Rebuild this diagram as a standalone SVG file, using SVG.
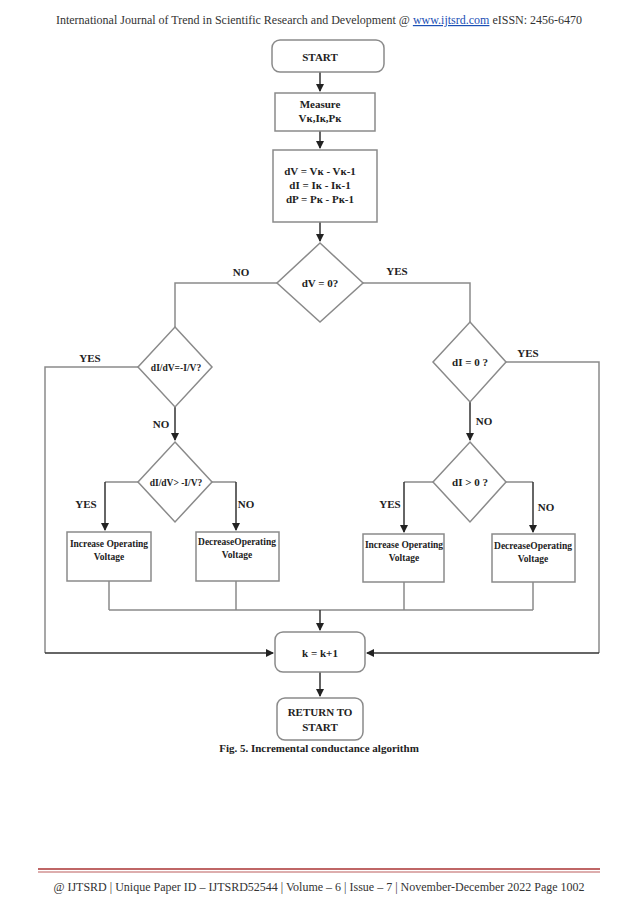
<svg xmlns="http://www.w3.org/2000/svg" width="638" height="903" viewBox="0 0 638 903">
<style>
.s{fill:#fff;stroke:#8a8a8a;stroke-width:1.5}
.c{fill:none;stroke:#8a8a8a;stroke-width:1.5}
.a{fill:none;stroke:#333;stroke-width:1.5;marker-end:url(#ar)}
text{font-family:"Liberation Serif",serif;font-weight:bold;font-size:11px;fill:#222;text-anchor:middle}
.sm{font-size:9.5px}
.h{font-weight:normal;font-size:12px;fill:#333}
</style>
<defs><marker id="ar" markerWidth="8" markerHeight="8" refX="7" refY="4" orient="auto" markerUnits="userSpaceOnUse"><path d="M0,0L8,4L0,8z" fill="#222"/></marker></defs>
<rect width="638" height="903" fill="#fff"/>
<text class="h" x="319" y="24">International Journal of Trend in Scientific Research and Development @ <tspan fill="#1a4fb5" text-decoration="underline">www.ijtsrd.com</tspan> eISSN: 2456-6470</text>
<g id="connectors">
<path class="a" d="M320,72V91"/>
<path class="a" d="M320,131V148"/>
<path class="a" d="M320,222V241"/>
<path class="c" d="M277,283H175V327"/>
<path class="c" d="M363,283H470V322"/>
<path class="a" d="M175,407V440"/>
<path class="a" d="M470,402V440"/>
<path class="c" d="M138,367H45V653"/><path class="a" d="M45,653H273"/>
<path class="c" d="M506,362H599V653"/><path class="a" d="M599,653H367"/>
<path class="c" d="M138,482H105"/><path class="a" d="M105,482V530"/>
<path class="c" d="M212,482H236"/><path class="a" d="M236,482V530"/>
<path class="c" d="M433,482H404"/><path class="a" d="M404,482V532"/>
<path class="c" d="M506,482H533"/><path class="a" d="M533,482V532"/>
<path class="c" d="M109,581V610M236,581V610M404,582V610M533,582V610M109,610H533"/>
<path class="a" d="M320,610V630"/>
<path class="a" d="M320,672V696"/>
<text x="241" y="276">NO</text><text x="397" y="275">YES</text>
<text x="90" y="362">YES</text><text x="161" y="428">NO</text>
<text x="86" y="508">YES</text><text x="246" y="508">NO</text>
<text x="528" y="357">YES</text><text x="484" y="425">NO</text>
<text x="390" y="508">YES</text><text x="546" y="511">NO</text>
</g>
<g id="start"><rect class="s" x="272" y="40" width="112" height="32" rx="8"/><text x="320" y="61" font-size="12">START</text></g>
<g id="measure"><rect class="s" x="275" y="93" width="100" height="38"/><text x="320" y="108">Measure</text><text x="320" y="122">Vĸ,Iĸ,Pĸ</text></g>
<g id="diffs"><rect class="s" x="273" y="150" width="104" height="72"/><text x="320" y="175">dV = Vĸ - Vĸ-1</text><text x="320" y="189">dI = Iĸ  - Iĸ-1</text><text x="320" y="203">dP = Pĸ - Pĸ-1</text></g>
<g id="d1"><path class="s" d="M320,243L363,283L320,322L277,283z"/><text x="320" y="287">dV = 0?</text></g>
<g id="d2"><path class="s" d="M175,327L212,367L175,407L138,367z"/><text x="176" y="371" class="sm">dI/dV=-I/V?</text></g>
<g id="d3"><path class="s" d="M175,442L212,482L175,522L138,482z"/><text x="176" y="486" class="sm">dI/dV&gt; -I/V?</text></g>
<g id="d4"><path class="s" d="M470,322L506,362L470,402L433,362z"/><text x="470" y="366">dI = 0 ?</text></g>
<g id="d5"><path class="s" d="M470,442L506,482L470,522L433,482z"/><text x="470" y="486">dI &gt; 0 ?</text></g>
<g id="inc1"><rect class="s" x="67" y="532" width="84" height="49"/><text class="sm" x="109" y="547">Increase Operating</text><text class="sm" x="109" y="560">Voltage</text></g>
<g id="dec1"><rect class="s" x="196" y="532" width="83" height="49"/><text class="sm" x="237" y="545">DecreaseOperating</text><text class="sm" x="237" y="558">Voltage</text></g>
<g id="inc2"><rect class="s" x="363" y="534" width="81" height="48"/><text class="sm" x="404" y="548">Increase Operating</text><text class="sm" x="404" y="561">Voltage</text></g>
<g id="dec2"><rect class="s" x="492" y="534" width="83" height="48"/><text class="sm" x="533" y="549">DecreaseOperating</text><text class="sm" x="533" y="562">Voltage</text></g>
<g id="k"><rect class="s" x="275" y="632" width="90" height="40" rx="8"/><text x="320" y="657">k = k+1</text></g>
<g id="ret"><rect class="s" x="277" y="698" width="86" height="42" rx="8"/><text x="320" y="716" font-size="11.5">RETURN TO</text><text x="320" y="731" font-size="11.5">START</text></g>
<text x="319" y="752" font-size="12.5">Fig. 5. Incremental conductance algorithm</text>
<path d="M38,869H600" stroke="#a33" stroke-width="1.5"/><path d="M38,872H600" stroke="#a33" stroke-width="0.8"/>
<text class="h" x="319" y="891">@ IJTSRD  |  Unique Paper ID – IJTSRD52544  |  Volume – 6  |  Issue – 7  |  November-December 2022     Page 1002</text>
</svg>
